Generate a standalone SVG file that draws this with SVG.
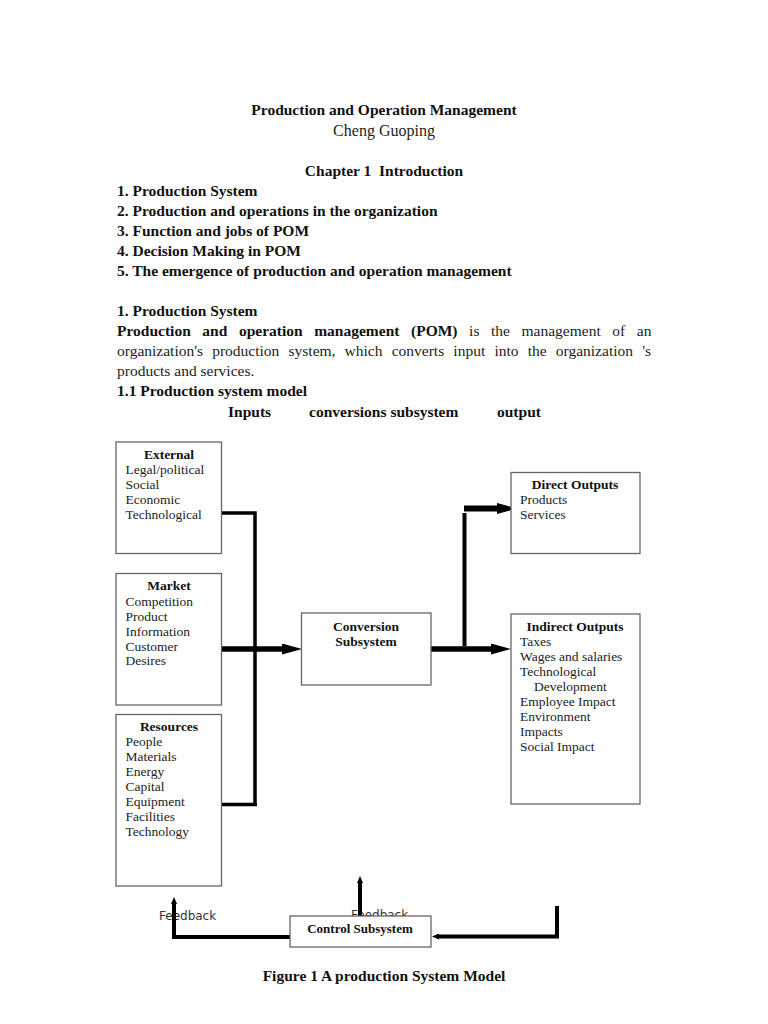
<svg xmlns="http://www.w3.org/2000/svg" width="768" height="1024" viewBox="0 0 768 1024">
<defs>
<style>
text{font-family:"Liberation Serif","Times New Roman",serif;fill:#111}
.h{font-size:15.5px;font-weight:bold}
.r{font-size:15.5px;fill:#222}
.bt{font-size:13.5px;font-weight:bold;text-anchor:middle}
.bl{font-size:13.5px;fill:#222}
.fb{font-family:"DejaVu Sans","Liberation Sans",sans-serif;font-size:12px;fill:#333}
.box{fill:#fff;stroke:#666;stroke-width:1.3}
.c{fill:none;stroke:#000;stroke-linejoin:miter;stroke-linecap:butt}
</style>
<marker id="ah" markerUnits="userSpaceOnUse" markerWidth="20" markerHeight="11" refX="0" refY="5.5" orient="auto" viewBox="0 0 20 11">
<path d="M0,0 L20,5.5 L0,11 Z" fill="#000"/>
</marker>
<marker id="tip" markerUnits="userSpaceOnUse" markerWidth="7" markerHeight="6" refX="0" refY="3" orient="auto" viewBox="0 0 7 6">
<path d="M0,0 L7,3 L0,6 Z" fill="#000"/>
</marker>
</defs>
<rect width="768" height="1024" fill="#fff"/>

<g id="header">
<text class="h" x="384" y="115" text-anchor="middle">Production and Operation Management</text>
<text class="r" x="384" y="136" text-anchor="middle" style="font-size:16px">Cheng Guoping</text>
<text class="h" x="384" y="176" text-anchor="middle" xml:space="preserve">Chapter 1  Introduction</text>
<text class="h" x="117" y="196">1. Production System</text>
<text class="h" x="117" y="216">2. Production and operations in the organization</text>
<text class="h" x="117" y="236">3. Function and jobs of POM</text>
<text class="h" x="117" y="256">4. Decision Making in POM</text>
<text class="h" x="117" y="276">5. The emergence of production and operation management</text>
<text class="h" x="117" y="316">1. Production System</text>
<text class="r" x="117" y="336" word-spacing="7.7"><tspan font-weight="bold" fill="#111">Production and operation management (POM)</tspan> is the management of an</text>
<text class="r" x="117" y="356" word-spacing="5.3">organization's production system, which converts input into the organization 's</text>
<text class="r" x="117" y="376">products and services.</text>
<text class="h" x="117" y="396">1.1 Production system model</text>
<text class="h" x="228" y="417">Inputs</text>
<text class="h" x="309" y="417">conversions subsystem</text>
<text class="h" x="497" y="417">output</text>
</g>

<g id="feedback-labels">
<text class="fb" x="159" y="920">Feedback</text>
<text class="fb" x="351" y="919">Feedback</text>
</g>

<g id="connectors">
<polyline class="c" points="222,513 255,513 255,806" stroke-width="3.5"/>
<line class="c" x1="222" y1="804.5" x2="257" y2="804.5" stroke-width="3.5"/>
<line class="c" x1="222" y1="649" x2="282" y2="649" stroke-width="5.5" marker-end="url(#ah)"/>
<line class="c" x1="431" y1="649" x2="491" y2="649" stroke-width="5.5" marker-end="url(#ah)"/>
<line class="c" x1="464.5" y1="513" x2="464.5" y2="646" stroke-width="4"/>
<line class="c" x1="464" y1="508.5" x2="497" y2="508.5" stroke-width="6" marker-end="url(#ah)"/>
<polyline class="c" points="290,937 174,937 174,904" stroke-width="4" marker-end="url(#tip)"/>
<line class="c" x1="360" y1="916" x2="360" y2="883" stroke-width="4" marker-end="url(#tip)"/>
<polyline class="c" points="557,906 557,936.5 439,936.5" stroke-width="4" marker-end="url(#tip)"/>
</g>

<g id="external">
<rect class="box" x="116" y="442" width="105.5" height="111.5"/>
<text class="bt" x="169" y="458.5">External</text>
<text class="bl" x="125.5" y="473.5">Legal/political</text>
<text class="bl" x="125.5" y="488.5">Social</text>
<text class="bl" x="125.5" y="504">Economic</text>
<text class="bl" x="125.5" y="519">Technological</text>
</g>

<g id="market">
<rect class="box" x="116" y="573.5" width="105.5" height="131.5"/>
<text class="bt" x="169" y="589.5">Market</text>
<text class="bl" x="125.5" y="605.5">Competition</text>
<text class="bl" x="125.5" y="620.5">Product</text>
<text class="bl" x="125.5" y="635.5">Information</text>
<text class="bl" x="125.5" y="650.5">Customer</text>
<text class="bl" x="125.5" y="665">Desires</text>
</g>

<g id="resources">
<rect class="box" x="116" y="714.5" width="105.5" height="171.5"/>
<text class="bt" x="169" y="731">Resources</text>
<text class="bl" x="125.5" y="746">People</text>
<text class="bl" x="125.5" y="761">Materials</text>
<text class="bl" x="125.5" y="776">Energy</text>
<text class="bl" x="125.5" y="791">Capital</text>
<text class="bl" x="125.5" y="806">Equipment</text>
<text class="bl" x="125.5" y="821">Facilities</text>
<text class="bl" x="125.5" y="836">Technology</text>
</g>

<g id="conversion">
<rect class="box" x="301.5" y="613" width="129.5" height="72"/>
<text class="bt" x="366" y="630.5">Conversion</text>
<text class="bt" x="366" y="645.5">Subsystem</text>
</g>

<g id="direct-outputs">
<rect class="box" x="511" y="472.5" width="129" height="81"/>
<text class="bt" x="575" y="489">Direct Outputs</text>
<text class="bl" x="520" y="504">Products</text>
<text class="bl" x="520" y="519">Services</text>
</g>

<g id="indirect-outputs">
<rect class="box" x="511" y="614" width="129" height="190"/>
<text class="bt" x="575" y="630.5">Indirect Outputs</text>
<text class="bl" x="520" y="645.5">Taxes</text>
<text class="bl" x="520" y="660.5">Wages and salaries</text>
<text class="bl" x="520" y="675.5">Technological</text>
<text class="bl" x="534" y="690.5">Development</text>
<text class="bl" x="520" y="705.5">Employee Impact</text>
<text class="bl" x="520" y="720.5">Environment</text>
<text class="bl" x="520" y="735.5">Impacts</text>
<text class="bl" x="520" y="750.5">Social Impact</text>
</g>

<g id="control">
<rect class="box" x="290" y="916" width="141" height="31"/>
<text class="bt" x="360" y="932.5" style="font-size:13px">Control Subsystem</text>
</g>

<text class="h" x="384" y="981" text-anchor="middle">Figure 1 A production System Model</text>
</svg>
